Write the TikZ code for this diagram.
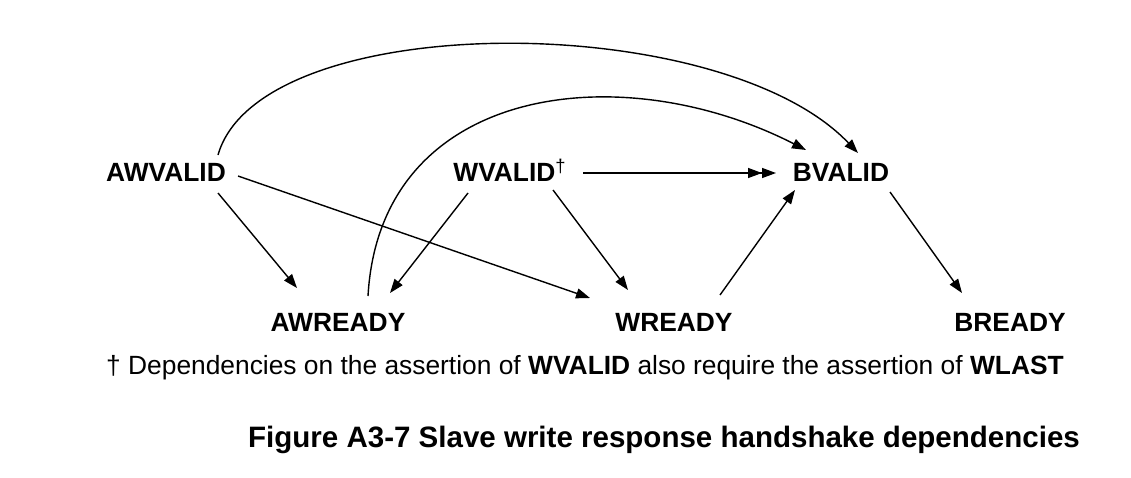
\documentclass[tikz,border=0pt]{standalone}
\usepackage{fontspec}
\setmainfont{Liberation Sans}
\usetikzlibrary{arrows.meta}
\begin{document}
\begin{tikzpicture}[x=0.02cm,y=-0.02cm,
  sig/.style={font=\fontsize{15}{17}\selectfont\bfseries, inner sep=0pt},
  arr/.style={line width=0.8pt,-{Triangle[length=0.28cm,width=0.2cm]}},
  darr/.style={line width=0.8pt,-{Triangle[length=0.28cm,width=0.2cm]Triangle[length=0.28cm,width=0.2cm]}}]
\useasboundingbox (0,0) rectangle (1131,477);
\node[sig] (awvalid) at (166,172) {AWVALID};
\node[sig] (wvalid) at (510,170) {WVALID\textsuperscript{\normalfont\dag}};
\node[sig] (bvalid) at (841,172) {BVALID};
\node[sig] (awready) at (338,322) {AWREADY};
\node[sig] (wready) at (674,322) {WREADY};
\node[sig] (bready) at (1010,322) {BREADY};
\coordinate (a1) at (218,193); \coordinate (a2) at (297,288);
\coordinate (b1) at (238,176); \coordinate (b2) at (590,298);
\coordinate (c1) at (468,193); \coordinate (c2) at (390,293);
\coordinate (d1) at (553,190); \coordinate (d2) at (628,290);
\coordinate (e1) at (583,173); \coordinate (e2) at (776,173);
\coordinate (f1) at (720,295); \coordinate (f2) at (795,190);
\coordinate (g1) at (890,192); \coordinate (g2) at (962,293);
\coordinate (h1) at (218,155); \coordinate (h2) at (858,153);
\coordinate (i1) at (368,296); \coordinate (i2) at (806,150);
\draw[arr] (a1) -- (a2);
\draw[arr] (b1) -- (b2);
\draw[arr] (c1) -- (c2);
\draw[arr] (d1) -- (d2);
\draw[darr] (e1) -- (e2);
\draw[arr] (f1) -- (f2);
\draw[arr] (g1) -- (g2);
\draw[arr] (h1) .. controls (260,8) and (720,8) .. (h2);
\draw[arr] (i1) .. controls (380,85) and (620,55) .. (i2);
\node[font=\fontsize{15}{17}\selectfont, inner sep=0pt] (note) at (585,368) {\dag\ Dependencies on the assertion of \textbf{WVALID} also require the assertion of \textbf{WLAST}};
\node[font=\fontsize{16.8}{19}\selectfont\bfseries, inner sep=0pt] (cap) at (664,440) {Figure A3-7 Slave write response handshake dependencies};
\end{tikzpicture}
\end{document}
